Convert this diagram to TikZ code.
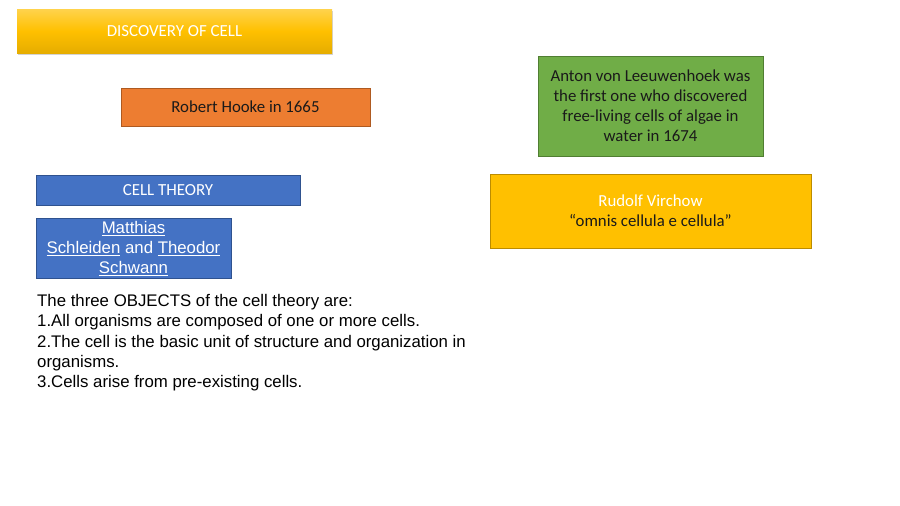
\documentclass[tikz,border=0pt]{standalone}
\usepackage{fontspec}
\setmainfont{Carlito}
\newfontfamily\arialfont{Liberation Sans}
\usepackage{tikz}
\usetikzlibrary{shadows,positioning}

\definecolor{titleyellow}{HTML}{FFC000}
\definecolor{hookeorange}{HTML}{ED7D31}
\definecolor{hookeborder}{HTML}{AE5A21}
\definecolor{theoryblue}{HTML}{4472C4}
\definecolor{theoryborder}{HTML}{2F528F}
\definecolor{antongreen}{HTML}{70AD47}
\definecolor{antonborder}{HTML}{507E32}
\definecolor{virchowborder}{HTML}{BC8C00}
\definecolor{darktext}{HTML}{1A1A1A}

\begin{document}
\begin{tikzpicture}[x=1pt,y=-1pt]
\tikzset{BOX/.style={draw,rectangle,line width=0.8pt,inner sep=2pt,align=center,text centered}}
\tikzset{TITLE/.style={rectangle,top color=titleyellow!70!white,bottom color=titleyellow!90!black,middle color=titleyellow,drop shadow={shadow xshift=1pt,shadow yshift=-2pt,opacity=0.35},text=white,font=\fontsize{16.9}{20}\selectfont}}
\tikzset{HOOKE/.style={BOX,fill=hookeorange,draw=hookeborder,text=darktext,font=\fontsize{16.8}{20}\selectfont}}
\tikzset{THEORY/.style={BOX,fill=theoryblue,draw=theoryborder,text=white}}
\tikzset{ANTON/.style={BOX,fill=antongreen,draw=antonborder,text=darktext,font=\fontsize{16.8}{20}\selectfont}}
\tikzset{VIRCHOW/.style={BOX,fill=titleyellow,draw=virchowborder,font=\fontsize{16.8}{20}\selectfont}}

\useasboundingbox (0,0) rectangle (900,506);

\node[TITLE,minimum width=315pt,minimum height=44pt] (discovery) at (174.5,31) {DISCOVERY OF CELL};
\node[HOOKE,minimum width=249pt,minimum height=38pt] (hooke) at (245.5,107) {Robert Hooke in 1665};

\node[THEORY,minimum width=264pt,minimum height=30pt,font=\fontsize{16.9}{20}\selectfont] (cell theory) at (168,190) {CELL THEORY};
\node[THEORY,minimum width=195pt,minimum height=60pt,text depth=2pt,font=\arialfont\fontsize{16.8}{20}\selectfont] (schleiden) at (133.5,248.5)
  {\underline{Matthias}\\\underline{Schleiden} and \underline{Theodor}\\\underline{Schwann}};

\node[anchor=north west,align=left,inner sep=0pt,font=\arialfont\fontsize{16.8}{20.4}\selectfont] (objects) at (37,294)
  {The three OBJECTS of the cell theory are:\\
   1.All organisms are composed of one or more cells.\\
   2.The cell is the basic unit of structure and organization in\\
   organisms.\\
   3.Cells arise from pre-existing cells.};

\node[ANTON,minimum width=225pt,minimum height=100pt] (leeuwenhoek) at (650.5,106)
  {Anton von Leeuwenhoek was\\the first one who discovered\\free-living cells of algae in\\water in 1674};
\node[VIRCHOW,minimum width=321pt,minimum height=74pt] (virchow) at (650.5,211)
  {\textcolor{white}{Rudolf Virchow}\\\textcolor{darktext}{\char"201C omnis cellula e cellula\char"201D}};

\end{tikzpicture}
\end{document}
